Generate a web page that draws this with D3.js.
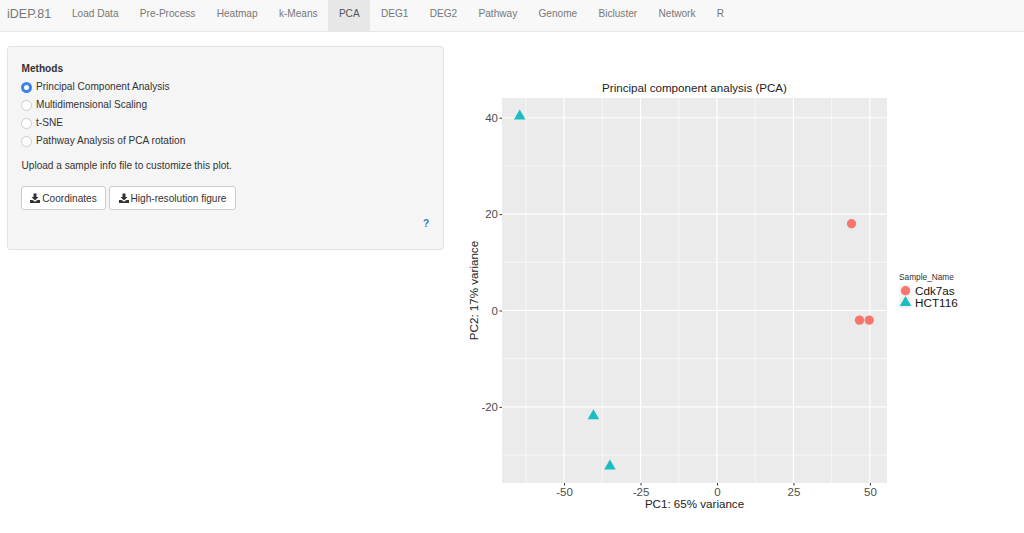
<!DOCTYPE html>
<html>
<head>
<meta charset="utf-8">
<script src="https://cdn.jsdelivr.net/npm/d3@7/dist/d3.min.js"></script>
<style>
html, body { margin: 0; padding: 0; background: #fff; overflow: hidden; }
body { width: 1024px; height: 533px; position: relative; font-family: "Liberation Sans", sans-serif; font-size: 10.1px; color: #333; }
#nav { position: absolute; left: 0; top: 0; width: 1024px; height: 31px; background: #f8f8f8; border-bottom: 1px solid #e7e7e7; display: flex; }
#nav .brand { font-size: 12.5px; color: #777; padding: 0 0 0 7px; width: 54.3px; line-height: 28px; }
#nav .tab { color: #777; padding: 0 10.65px; line-height: 28px; height: 31px; font-size: 10.1px; }
#nav .tab.active { background: #e7e7e7; color: #555; }
#panel { position: absolute; left: 7px; top: 46px; width: 435px; height: 202px; background: #f5f5f5; border: 1px solid #e3e3e3; border-radius: 3px; }
#panel .head { position: absolute; left: 13.5px; top: 16px; font-weight: bold; }
#panel .opt { position: absolute; left: 13px; height: 12px; line-height: 12px; display: flex; align-items: center; }
#panel .dot { width: 9px; height: 9px; border-radius: 50%; border: 1px solid #ccc; background: #fff; margin-right: 4px; }
#panel .dot.on { width: 5px; height: 5px; border: 3px solid #3b82f0; background: #fff; }
#panel .note { position: absolute; left: 13.5px; top: 113px; }
.btn { position: absolute; top: 139px; height: 22px; line-height: 24px; background: #fff; border: 1px solid #ccc; border-radius: 3px; text-align: center; box-sizing: content-box; }
.btn svg { vertical-align: -1px; margin-right: 2px; }
#help { position: absolute; left: 415px; top: 171px; color: #337ab7; font-weight: bold; }
#chart { position: absolute; left: 0; top: 0; }
</style>
</head>
<body>
<div id="nav"></div>
<div id="panel"></div>
<svg id="chart" width="1024" height="533" style="pointer-events:none"></svg>
<script>
const brand = "iDEP.81";
const tabs = ["Load Data", "Pre-Process", "Heatmap", "k-Means", "PCA", "DEG1", "DEG2", "Pathway", "Genome", "Bicluster", "Network", "R"];
const activeTab = "PCA";
const methods = ["Principal Component Analysis", "Multidimensional Scaling", "t-SNE", "Pathway Analysis of PCA rotation"];
const buttons = ["Coordinates", "High-resolution figure"];

const groups = ["Cdk7as", "HCT116"];
const pc1 = [44, 46.6, 49.8, -64.5, -40.4, -35];
const pc2 = [18, -2, -2, 40.35, -21.9, -32.3];
const sampleGroup = ["Cdk7as", "Cdk7as", "Cdk7as", "HCT116", "HCT116", "HCT116"];
const xTicks = [-50, -25, 0, 25, 50];
const yTicks = [-20, 0, 20, 40];
const xMinor = [-62.5, -37.5, -12.5, 12.5, 37.5];
const yMinor = [-30, -10, 10, 30];

// navbar
const nav = d3.select("#nav");
nav.append("div").attr("class", "brand").text(brand);
nav.selectAll(".tab").data(tabs).enter().append("div")
    .attr("class", d => d === activeTab ? "tab active" : "tab")
    .text(d => d);

// left panel
const panel = d3.select("#panel");
panel.append("div").attr("class", "head").text("Methods");
const opts = panel.selectAll(".opt").data(methods).enter().append("div")
    .attr("class", "opt")
    .style("top", (d, i) => (34 + i * 18) + "px");
opts.append("span").attr("class", (d, i) => i === 0 ? "dot on" : "dot");
opts.append("span").text(d => d);
panel.append("div").attr("class", "note").text("Upload a sample info file to customize this plot.");

const icon = '<svg width="10" height="10" viewBox="0 0 10 10"><path d="M3.5 0.5h3v3.5h2L5 7.5 1.500 4h2z M0 7h2.500L5 8.800 7.500 7H10v3H0z" fill="#333"/></svg>';
panel.selectAll(".btn").data(buttons).enter().append("div")
    .attr("class", "btn")
    .style("left", (d, i) => i === 0 ? "13px" : "101px")
    .style("width", (d, i) => i === 0 ? "83px" : "125px")
    .html(d => icon + d);
panel.append("div").attr("id", "help").text("?");

// chart
const svg = d3.select("#chart");
const colour = d3.scaleOrdinal().domain(groups).range(["#f8766d", "#1bbdc2"]);
const marginLeft = 502, marginRight = 887, marginTop = 98, marginBottom = 483;
const xScale = d3.scaleLinear().domain([-70.3, 55.6]).range([marginLeft, marginRight]);
const yScale = d3.scaleLinear().domain([-35.8, 44.1]).range([marginBottom, marginTop]);

svg.append("rect")
    .attr("x", marginLeft).attr("y", marginTop)
    .attr("width", marginRight - marginLeft).attr("height", marginBottom - marginTop)
    .attr("fill", "#ebebeb");

// grid lines, major and minor
svg.selectAll(".minor-x").data(xMinor).enter().append("line")
    .attr("x1", d => xScale(d)).attr("x2", d => xScale(d))
    .attr("y1", marginTop).attr("y2", marginBottom)
    .attr("stroke", "#fff").attr("stroke-width", 0.6);
svg.selectAll(".minor-y").data(yMinor).enter().append("line")
    .attr("x1", marginLeft).attr("x2", marginRight)
    .attr("y1", d => yScale(d)).attr("y2", d => yScale(d))
    .attr("stroke", "#fff").attr("stroke-width", 0.6);
svg.selectAll(".major-x").data(xTicks).enter().append("line")
    .attr("x1", d => xScale(d)).attr("x2", d => xScale(d))
    .attr("y1", marginTop).attr("y2", marginBottom)
    .attr("stroke", "#fff").attr("stroke-width", 1.2);
svg.selectAll(".major-y").data(yTicks).enter().append("line")
    .attr("x1", marginLeft).attr("x2", marginRight)
    .attr("y1", d => yScale(d)).attr("y2", d => yScale(d))
    .attr("stroke", "#fff").attr("stroke-width", 1.2);

// axes, plain hyphen on the negatives like the original
const xAxis = svg.append("g")
    .attr("transform", `translate(0,${marginBottom})`)
    .call(d3.axisBottom(xScale).tickValues(xTicks).tickSize(2.500).tickPadding(2.500).tickFormat(d => String(d)));
const yAxis = svg.append("g")
    .attr("transform", `translate(${marginLeft},0)`)
    .call(d3.axisLeft(yScale).tickValues(yTicks).tickSize(2.500).tickPadding(1.500).tickFormat(d => String(d)));
[xAxis, yAxis].forEach(a => {
    a.select(".domain").remove();
    a.selectAll("line").attr("stroke", "#333");
    a.selectAll("text").attr("fill", "#4d4d4d").style("font-size", "11.500px").style("font-family", "Liberation Sans");
});

// points
const symbolFor = g => d3.symbol().type(g === "Cdk7as" ? d3.symbolCircle : d3.symbolTriangle).size(g === "Cdk7as" ? 68 : 58)();
svg.selectAll(".pt").data(pc1).enter().append("path")
    .attr("transform", (d, i) => `translate(${xScale(d)},${yScale(pc2[i])})`)
    .attr("d", (d, i) => symbolFor(sampleGroup[i]))
    .attr("fill", (d, i) => colour(sampleGroup[i]));

// titles
svg.append("text")
    .attr("x", 694.500).attr("y", 92)
    .attr("text-anchor", "middle")
    .style("font-size", "11.600px").attr("fill", "#222")
    .text("Principal component analysis (PCA)");
svg.append("text")
    .attr("x", 694.500).attr("y", 508)
    .attr("text-anchor", "middle")
    .style("font-size", "11.600px").attr("fill", "#222")
    .text("PC1: 65% variance");
svg.append("text")
    .attr("x", 478).attr("y", 290.500)
    .attr("text-anchor", "middle")
    .attr("transform", "rotate(-90,478,290.500)")
    .style("font-size", "11.600px").attr("fill", "#222")
    .text("PC2: 17% variance");

// legend
svg.append("text")
    .attr("x", 899).attr("y", 279.500)
    .style("font-size", "8.300px").attr("fill", "#333")
    .text("Sample_Name");
const legend = svg.selectAll(".key").data(groups).enter().append("g")
    .attr("transform", (d, i) => `translate(905.500,${290.700 + i * 12})`);
legend.append("rect")
    .attr("x", -6).attr("y", -6).attr("width", 12).attr("height", 12)
    .attr("fill", "#f2f2f2");
legend.append("path")
    .attr("d", d => symbolFor(d))
    .attr("fill", d => colour(d));
legend.append("text")
    .attr("x", 9.500).attr("y", 4.300)
    .style("font-size", "11.700px").attr("fill", "#111")
    .text(d => d);
</script>
</body>
</html>
